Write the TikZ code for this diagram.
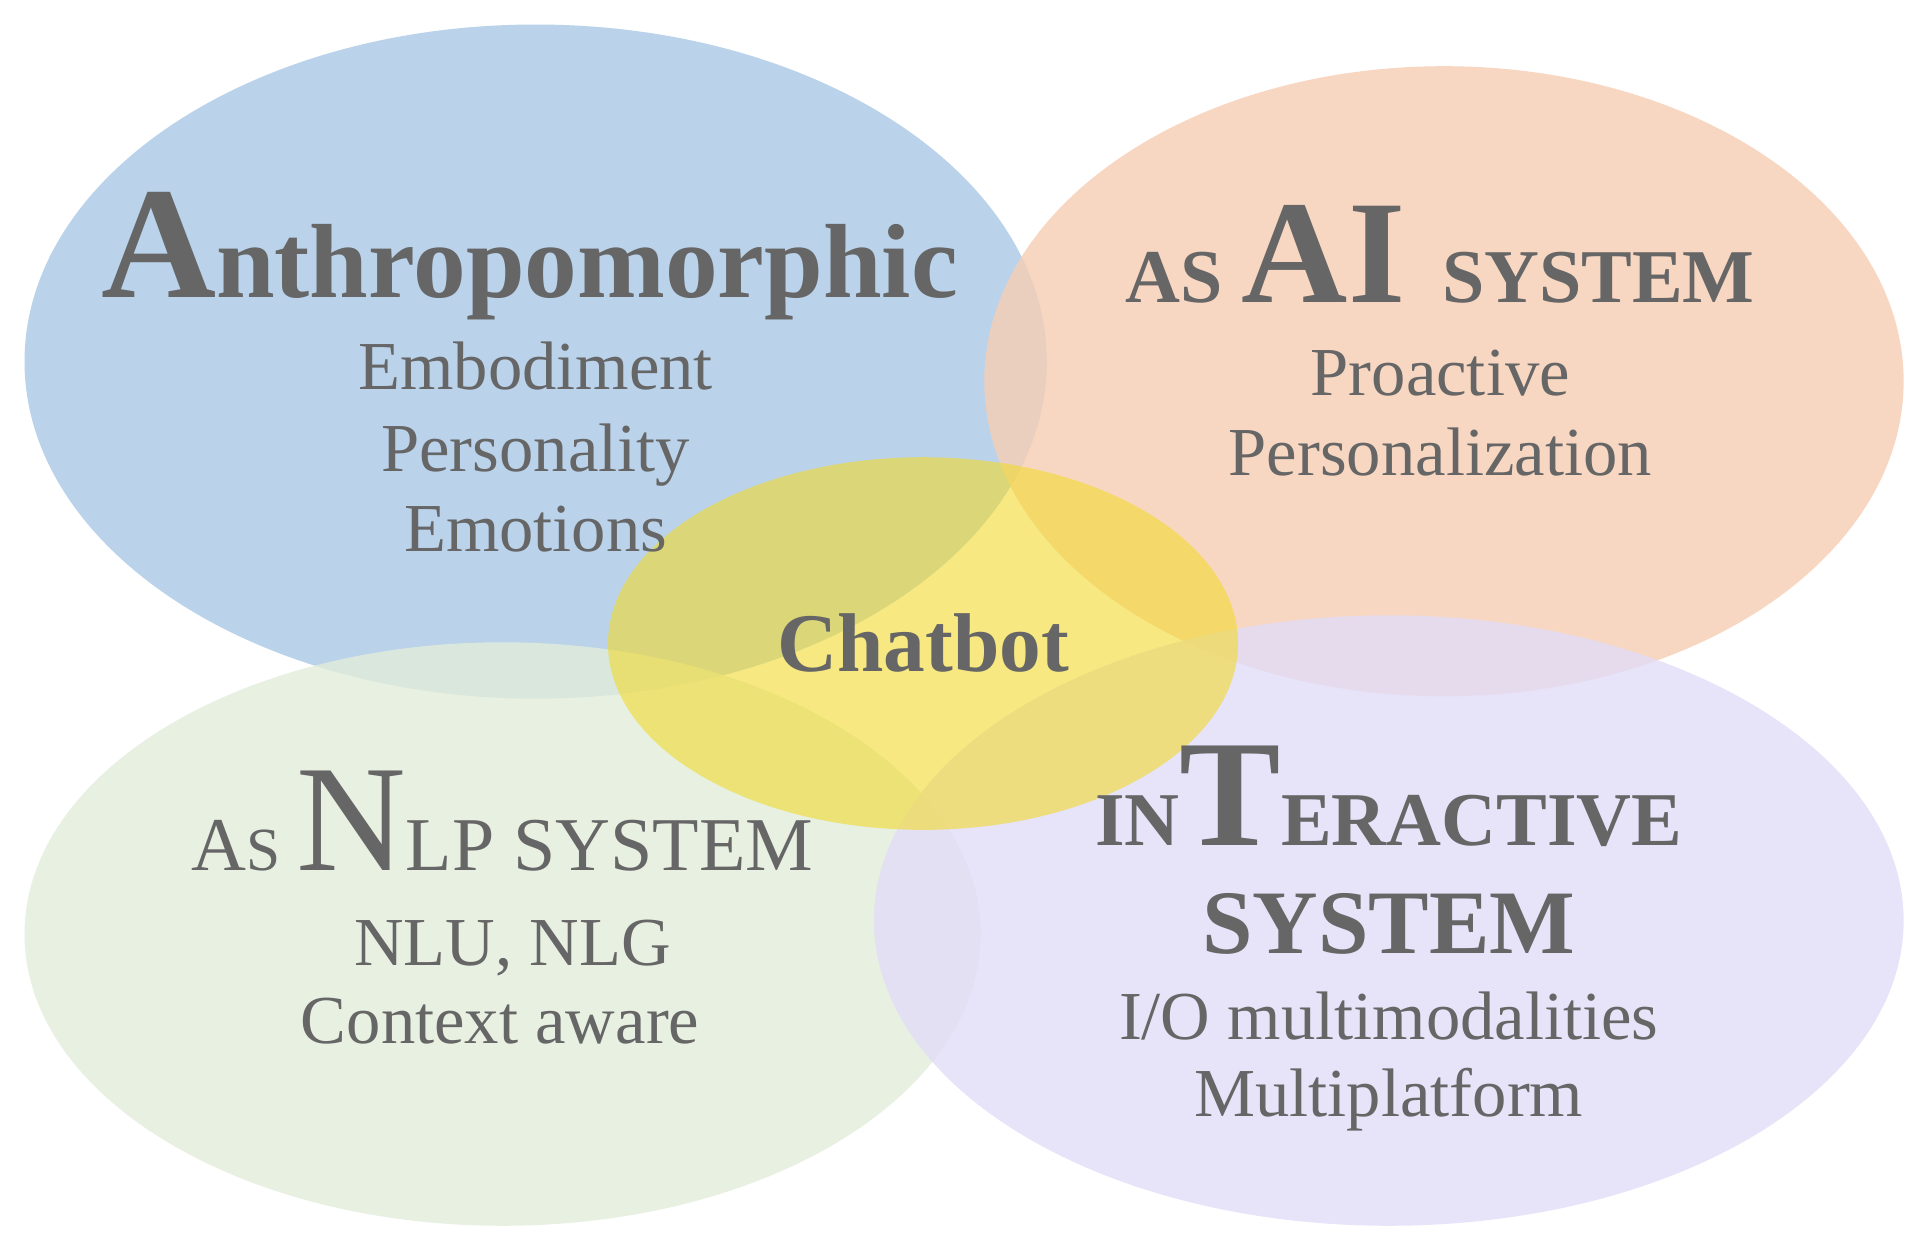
\documentclass[tikz,border=0pt]{standalone}
\usepackage{fontspec}
\setmainfont{Liberation Serif}
\definecolor{tg}{HTML}{666666}
\definecolor{cblue}{HTML}{A9C8E6}
\definecolor{corange}{HTML}{F7CDB3}
\definecolor{cgreen}{HTML}{E2EDDA}
\definecolor{cpurple}{HTML}{E2DCF8}
\definecolor{cyellow}{HTML}{F2DA2E}
\newcommand{\fs}[1]{\fontsize{#1}{#1}\selectfont}
\begin{document}
\begin{tikzpicture}[x=0.5pt,y=-0.5pt,
  blob/.style={draw=none,fill opacity=0.8},
  txt/.style={text=tg,anchor=base,inner sep=0pt}]
\useasboundingbox (0,0) rectangle (1568,1017);
\fill[white] (0,0) rectangle (1568,1017);
\fill[blob,cblue] (437,295) ellipse [x radius=417,y radius=275];
\fill[blob,corange] (1178,311) ellipse [x radius=375,y radius=257];
\fill[blob,cgreen] (410,762) ellipse [x radius=390,y radius=238];
\fill[blob,cpurple] (1133,751) ellipse [x radius=420,y radius=249];
\fill[blob,cyellow,fill opacity=0.6] (753,525) ellipse [x radius=257,y radius=152];
\node[txt] (t1) at (432,243) {\bfseries\fs{65}A\fs{43}nthropomorphic};
\node[txt] (a1) at (437,318) {\fs{28}Embodiment};
\node[txt] (a2) at (437,385) {\fs{28}Personality};
\node[txt] (a3) at (437,450) {\fs{28}Emotions};
\node[txt] (t2) at (1175,247) {\bfseries\fs{31}AS \fs{60}AI \fs{31}SYSTEM};
\node[txt] (b1) at (1175,323) {\fs{28}Proactive};
\node[txt] (b2) at (1175,388) {\fs{28}Personalization};
\node[txt] (c) at (753,548) {\bfseries\fs{34}Chatbot};
\node[txt] (t3) at (410,710) {\fs{31}A\fs{25}S \fs{62}N\fs{31}LP SYSTEM};
\node[txt] (d1) at (418,788) {\fs{28}NLU, NLG};
\node[txt] (d2) at (408,851) {\fs{28}Context aware};
\node[txt] (t4) at (1133,690) {\bfseries\fs{31}IN\fs{62}T\fs{31}ERACTIVE};
\node[txt] (t5) at (1133,778) {\bfseries\fs{37}SYSTEM};
\node[txt] (e1) at (1133,848) {\fs{28}I/O multimodalities};
\node[txt] (e2) at (1133,911) {\fs{28}Multiplatform};
\end{tikzpicture}
\end{document}
